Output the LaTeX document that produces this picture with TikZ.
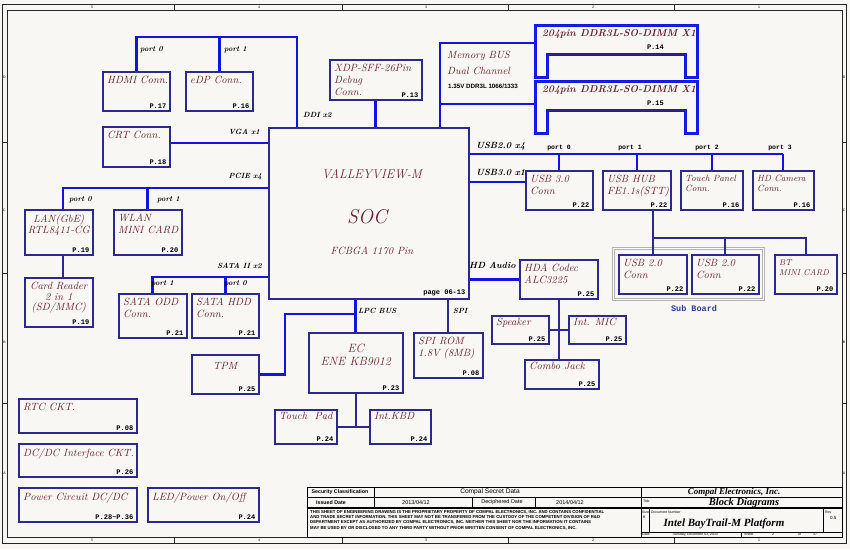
\documentclass[tikz,border=0pt]{standalone}
\usepackage{fontspec}
\newfontfamily\pgmono{Liberation Mono}
\newfontfamily\tbsans{Liberation Sans}
\newfontfamily\tbserif{Liberation Serif}
\usetikzlibrary{positioning, calc}
\definecolor{busblue}{RGB}{20,20,225}
\definecolor{boxnavy}{RGB}{45,40,140}
\definecolor{txtred}{RGB}{110,35,45}
\definecolor{paper}{RGB}{248,247,244}
\definecolor{sbblue}{RGB}{50,60,150}

\begin{document}
\begin{tikzpicture}[
    x=1pt, y=-1pt,
    blk/.style={draw=boxnavy, line width=1.5pt, anchor=north west,
                inner sep=0pt},
    txt/.style={anchor=north west, inner xsep=5pt, inner ysep=5pt,
                align=left, text=txtred,
                font=\fontsize{10.5}{11.5}\selectfont\itshape},
    ctxt/.style={txt, anchor=north, align=center},
    pg/.style={anchor=south east, inner xsep=4pt, inner ysep=3pt,
               font=\fontsize{7}{7}\selectfont\pgmono\bfseries},
    bus/.style={draw=busblue, line width=2.6pt},
    drop/.style={draw=busblue, line width=1.8pt},
    wire/.style={draw=boxnavy, line width=1.6pt},
    lbl/.style={anchor=base west, inner sep=0pt,
                font=\fontsize{7.5}{8}\selectfont\bfseries\itshape},
    biglbl/.style={lbl, font=\fontsize{9}{10}\selectfont\bfseries\itshape},
    plbl/.style={anchor=base, inner sep=0pt,
                 font=\fontsize{6.5}{7}\selectfont\pgmono\bfseries},
    soctxt/.style={anchor=base, inner sep=0pt, text=txtred},
    dimm/.style={anchor=north west, inner sep=0pt, minimum width=162pt,
                 minimum height=52pt},
    dimmln/.style={draw=busblue, line width=3pt,
                   postaction={draw=boxnavy, line width=0.8pt}},
    dtxt/.style={txt, inner xsep=7pt, inner ysep=4pt,
                 font=\fontsize{10}{11}\selectfont\bfseries\itshape},
    subb/.style={draw=gray!60, line width=0.8pt, double=white,
                 double distance=1.4pt, anchor=north west, inner sep=0pt},
    frm/.style={draw=black!85, line width=0.8pt},
    zone/.style={inner sep=0pt, font=\fontsize{3.5}{4}\selectfont\tbsans},
    tbl/.style={draw=black, line width=1pt},
    tbtxt/.style={inner sep=0pt, font=\fontsize{5.5}{6}\selectfont\tbsans},
    tbtiny/.style={anchor=west, inner sep=0pt,
                   font=\fontsize{3.5}{4}\selectfont\tbsans},
    tbbig/.style={inner sep=0pt, font=\tbserif\bfseries\itshape}
  ]
  \fill[paper] (0,0) rectangle (850,549);

  % sheet frame
  \draw[frm] (2,4) rectangle (846,543);
  \draw[frm] (7,10) rectangle (842,537);
  \foreach \x in {174,342,508,674} {
    \draw[frm] (\x,4) -- (\x,10);
    \draw[frm] (\x,537) -- (\x,543);
  }
  \foreach \y in {142,273,403} {
    \draw[frm] (2,\y) -- (7,\y);
    \draw[frm] (842,\y) -- (846,\y);
  }
  \foreach \x/\t in {92/5,259/4,426/3,593/2,759/1} {
    \node[zone] (zt\t) at (\x,7) {\t};
    \node[zone] (zb\t) at (\x,540) {\t};
  }
  \foreach \y/\t in {77/D,210/C,342/B,473/A} {
    \node[zone] (zl\t) at (4.5,\y) {\t};
    \node[zone] (zr\t) at (844,\y) {\t};
  }

  % SOC
  \node[blk, minimum width=200pt, minimum height=171pt,
        label={[pg]south east:page 06-13}] (soc) at (268,127) {};
  \node[soctxt, font=\fontsize{12.6}{13}\selectfont\itshape]
    (socname) at (372,178) {VALLEYVIEW-M};
  \node[soctxt, font=\fontsize{20}{20}\selectfont\itshape]
    (soclbl) at (367,223) {SOC};
  \node[soctxt, font=\fontsize{10.5}{11}\selectfont\itshape]
    (socpkg) at (372,254) {FCBGA 1170 Pin};

  % display
  \node[blk, minimum width=67pt, minimum height=39pt,
        label={[txt]north west:HDMI Conn.},
        label={[pg]south east:P.17}] (hdmi) at (102,71) {};
  \node[blk, minimum width=67pt, minimum height=39pt,
        label={[txt]north west:eDP Conn.},
        label={[pg]south east:P.16}] (edp) at (185,71) {};
  \node[blk, minimum width=67pt, minimum height=40pt,
        label={[txt]north west:CRT Conn.},
        label={[pg]south east:P.18}] (crt) at (102,126) {};

  % pcie / sata
  \node[blk, minimum width=68pt, minimum height=45pt,
        label={[ctxt]north:LAN(GbE)\\RTL8411-CG},
        label={[pg]south east:P.19}] (lan) at (24,209) {};
  \node[blk, minimum width=68pt, minimum height=45pt,
        label={[txt]north west:WLAN\\MINI CARD},
        label={[pg]south east:P.20}] (wlan) at (113,209) {};
  \node[blk, minimum width=68pt, minimum height=49pt,
        label={[ctxt, font=\fontsize{10.5}{10.5}\selectfont\itshape]
               north:Card Reader\\2 in 1\\(SD/MMC)},
        label={[pg]south east:P.19}] (cardrd) at (24,277) {};
  \node[blk, minimum width=68pt, minimum height=44pt,
        label={[txt]north west:SATA ODD\\Conn.},
        label={[pg]south east:P.21}] (odd) at (118,293) {};
  \node[blk, minimum width=67pt, minimum height=44pt,
        label={[txt]north west:SATA HDD\\Conn.},
        label={[pg]south east:P.21}] (hdd) at (191,293) {};

  % debug / memory
  \node[blk, minimum width=92pt, minimum height=40pt,
        label={[txt, font=\fontsize{10.5}{12}\selectfont\itshape]
               north west:XDP-SFF-26Pin\\Debug\\Conn.},
        label={[pg]south east:P.13}] (xdp) at (329,59) {};
  \node[dimm, label={[dtxt]north west:204pin DDR3L-SO-DIMM X1}]
    (dimma) at (535,25) {};
  \node[dimm, label={[dtxt]north west:204pin DDR3L-SO-DIMM X1}]
    (dimmb) at (535,81) {};
  \draw[dimmln] (dimma.north west) -- (dimma.north east)
    -- (dimma.south east) -- ++(-12,0) -- ++(0,-23) -- ++(-138,0)
    -- ++(0,23) -- (dimma.south west) -- cycle;
  \draw[dimmln] (dimmb.north west) -- (dimmb.north east)
    -- (dimmb.south east) -- ++(-12,0) -- ++(0,-23) -- ++(-138,0)
    -- ++(0,23) -- (dimmb.south west) -- cycle;
  \node[pg, anchor=base east, inner sep=0pt] (dimmapg) at (664,49) {P.14};
  \node[pg, anchor=base east, inner sep=0pt] (dimmbpg) at (664,105) {P.15};
  \node[txt, anchor=base west, inner sep=0pt] (memname) at (447,58)
    {Memory BUS};
  \node[txt, anchor=base west, inner sep=0pt] (memch) at (447,74)
    {Dual Channel};
  \node[anchor=base west, inner sep=0pt,
        font=\fontsize{6.2}{7}\selectfont\tbsans\bfseries]
    (memspd) at (448,88) {1.35V DDR3L 1066/1333};

  % usb
  \node[blk, minimum width=67pt, minimum height=39pt,
        label={[txt]north west:USB 3.0\\Conn},
        label={[pg]south east:P.22}] (usb3) at (525,170) {};
  \node[blk, minimum width=68pt, minimum height=39pt,
        label={[txt]north west:USB HUB\\FE1.1s(STT)},
        label={[pg]south east:P.22}] (hub) at (602,170) {};
  \node[blk, minimum width=62pt, minimum height=39pt,
        label={[txt, font=\fontsize{9}{10}\selectfont\itshape]
               north west:Touch Panel\\Conn.},
        label={[pg]south east:P.16}] (tpanel) at (680,170) {};
  \node[blk, minimum width=61pt, minimum height=39pt,
        label={[txt, font=\fontsize{9}{10}\selectfont\itshape]
               north west:HD Camera\\Conn.},
        label={[pg]south east:P.16}] (hdcam) at (752,170) {};
  \node[subb, minimum width=150pt, minimum height=51pt] (subbrd)
    at (613,248) {};
  \node[anchor=base, inner sep=0pt, text=sbblue,
        font=\fontsize{8.5}{9}\selectfont\pgmono\bfseries]
    (sbname) at (694,311) {Sub Board};
  \node[blk, minimum width=68pt, minimum height=39pt,
        label={[txt]north west:USB 2.0\\Conn},
        label={[pg]south east:P.22}] (usb2a) at (618,254) {};
  \node[blk, minimum width=67pt, minimum height=39pt,
        label={[txt]north west:USB 2.0\\Conn},
        label={[pg]south east:P.22}] (usb2b) at (691,254) {};
  \node[blk, minimum width=62pt, minimum height=39pt,
        label={[txt, font=\fontsize{8.5}{10}\selectfont\itshape]
               north west:BT\\MINI CARD},
        label={[pg]south east:P.20}] (bt) at (774,254) {};

  % audio / lpc
  \node[blk, minimum width=78pt, minimum height=39pt,
        label={[txt]north west:HDA Codec\\ALC3225},
        label={[pg]south east:P.25}] (hda) at (519,259) {};
  \node[blk, minimum width=57pt, minimum height=28pt,
        label={[txt, inner ysep=3pt]north west:Speaker},
        label={[pg]south east:P.25}] (spk) at (491,315) {};
  \node[blk, minimum width=57pt, minimum height=28pt,
        label={[txt, inner ysep=3pt]north west:Int. MIC},
        label={[pg]south east:P.25}] (mic) at (568,315) {};
  \node[blk, minimum width=74pt, minimum height=29pt,
        label={[txt, inner ysep=3pt]north west:Combo Jack},
        label={[pg]south east:P.25}] (combo) at (524,359) {};
  \node[blk, minimum width=69pt, minimum height=45pt,
        label={[txt]north west:SPI ROM\\1.8V (8MB)},
        label={[pg]south east:P.08}] (spirom) at (413,332) {};
  \node[blk, minimum width=94pt, minimum height=60pt,
        label={[ctxt, yshift=-7pt, font=\fontsize{12}{13}\selectfont\itshape]
               north:EC\\ENE KB9012},
        label={[pg]south east:P.23}] (ec) at (308,332) {};
  \node[blk, minimum width=67pt, minimum height=39pt,
        label={[ctxt, yshift=-3pt]north:TPM},
        label={[pg]south east:P.25}] (tpm) at (191,354) {};
  \node[blk, minimum width=62pt, minimum height=34pt,
        label={[txt, inner ysep=3pt]north west:Touch~~Pad},
        label={[pg]south east:P.24}] (tpad) at (274,409) {};
  \node[blk, minimum width=61pt, minimum height=34pt,
        label={[txt, inner ysep=3pt]north west:Int.KBD},
        label={[pg]south east:P.24}] (kbd) at (369,409) {};

  % power
  \node[blk, minimum width=118pt, minimum height=34pt,
        label={[txt]north west:RTC CKT.},
        label={[pg]south east:P.08}] (rtc) at (18,398) {};
  \node[blk, minimum width=118pt, minimum height=33pt,
        label={[txt]north west:DC/DC Interface CKT.},
        label={[pg]south east:P.26}] (dcdc) at (18,443) {};
  \node[blk, minimum width=118pt, minimum height=34pt,
        label={[txt]north west:Power Circuit DC/DC},
        label={[pg]south east:P.28\textasciitilde P.36}] (pwr) at (18,487) {};
  \node[blk, minimum width=111pt, minimum height=34pt,
        label={[txt]north west:LED/Power On/Off},
        label={[pg]south east:P.24}] (led) at (147,487) {};

  % buses
  \coordinate (ddibus) at (297,37);
  \coordinate (vgabus) at (0,143);
  \coordinate (pciebus) at (63,188);
  \coordinate (satabus) at (0,277);
  \coordinate (memabus) at (440,43);
  \coordinate (membbus) at (440,104);
  \coordinate (u2bus) at (0,154);
  \coordinate (u3bus) at (0,182);
  \coordinate (sbbus) at (0,238);
  \coordinate (lpcbend) at (285,314);

  \draw[bus] (hdmi.north) |- (ddibus) -- (ddibus |- soc.north);
  \draw[bus] (edp.north) -- (edp.north |- ddibus);
  \draw[bus] (crt.east |- vgabus) -- (soc.west |- vgabus);
  \draw[bus] (pciebus |- lan.north) -- (pciebus) -- (pciebus -| soc.west);
  \draw[bus] (wlan.north) -- (wlan.north |- pciebus);
  \draw[wire] (pciebus |- lan.south) -- (pciebus |- cardrd.north);
  \draw[bus] (odd.north) -- (odd.north |- satabus) -- (soc.west |- satabus);
  \draw[bus] (hdd.north) -- (hdd.north |- satabus);
  \draw[bus] (xdp.south) -- (xdp.south |- soc.north);
  \draw[bus] (memabus |- soc.north) -- (memabus) -- (memabus -| dimma.west);
  \draw[bus] (membbus) -- (membbus -| dimmb.west);
  \draw[bus] (soc.east |- u2bus) -- (hdcam.north |- u2bus);
  \foreach \n in {usb3, hub, tpanel, hdcam}
    \draw[drop] (\n.north) -- (\n.north |- u2bus);
  \draw[bus] (soc.east |- u3bus) -- (usb3.west |- u3bus);
  \draw[wire] (usb2a.north |- hub.south) -- (usb2a.north);
  \draw[wire] (usb2a.north |- sbbus) -- (bt.north |- sbbus) -- (bt.north);
  \draw[wire] (usb2b.north |- sbbus) -- (usb2b.north);
  \draw[bus] (hda.west) -- (hda.west -| soc.east);
  \draw[wire] (hda.south) -- (hda.south |- combo.north);
  \draw[wire] (spk.east) -- (mic.west);
  \draw[wire] (spirom.north) -- (spirom.north |- soc.south);
  \draw[bus] (ec.north) -- (ec.north |- soc.south);
  \draw[bus] (tpm.east) -| (lpcbend) -- (lpcbend -| ec.north);
  \draw[wire] (ec.south) -- (ec.south |- tpad.east);
  \draw[wire] (tpad.east) -- (kbd.west);

  % bus labels
  \node[lbl] (ddip0) at (140,51) {port 0};
  \node[lbl] (ddip1) at (224,51) {port 1};
  \node[lbl] (ddilbl) at (303,117) {DDI x2};
  \node[lbl, anchor=base east] (vgalbl) at (260,134) {VGA x1};
  \node[lbl, anchor=base east] (pcielbl) at (262,178) {PCIE x4};
  \node[lbl] (pciep0) at (69,201) {port 0};
  \node[lbl] (pciep1) at (157,201) {port 1};
  \node[lbl, anchor=base east] (satalbl) at (262,268) {SATA II x2};
  \node[lbl] (satap1) at (151,285) {port 1};
  \node[lbl] (satap0) at (224,285) {port 0};
  \node[lbl] (lpclbl) at (358,313) {LPC BUS};
  \node[lbl] (spilbl) at (453,313) {SPI};
  \node[biglbl] (hdalbl) at (469,268) {HD Audio};
  \node[biglbl] (u2lbl) at (476,148) {USB2.0 x4};
  \node[biglbl] (u3lbl) at (476,175) {USB3.0 x1};
  \node[plbl] (usbp0) at (559,149) {port 0};
  \node[plbl] (usbp1) at (630,149) {port 1};
  \node[plbl] (usbp2) at (707,149) {port 2};
  \node[plbl] (usbp3) at (780,149) {port 3};

  % title block
  \draw[tbl] (307,487) rectangle (842,537);
  \draw[tbl] (307,497) -- (842,497);
  \draw[tbl, line width=1.4pt] (307,508) -- (842,508);
  \draw[tbl] (374,487) -- (374,508);
  \draw[tbl] (472,497) -- (472,508);
  \draw[tbl] (535,497) -- (535,508);
  \draw[tbl] (641,487) -- (641,537);
  \draw[tbl] (641,532) -- (842,532);
  \draw[tbl] (649,508) -- (649,532);
  \draw[tbl] (823,508) -- (823,532);
  \draw[tbl, line width=0.6pt] (741,532) -- (741,537);
  \node[tbtxt, font=\fontsize{5.3}{6}\selectfont\tbsans\bfseries]
    (secl) at (340,492) {Security Classification};
  \node[tbtxt, font=\fontsize{6.6}{7}\selectfont\tbsans]
    (secv) at (490,492) {Compal Secret Data};
  \node[tbtxt, font=\fontsize{5.3}{6}\selectfont\tbsans\bfseries]
    (issl) at (331,502.5) {Issued Date};
  \node[tbtxt] (issv) at (416,502.5) {2013/04/12};
  \node[tbtxt] (decl) at (502,502.5) {Deciphered Date};
  \node[tbtxt] (decv) at (570,502.5) {2014/04/12};
  \node[anchor=north west, inner sep=0pt, align=left,
        font=\fontsize{4.3}{5.3}\selectfont\tbsans\bfseries] (discl)
    at (310,510) {THIS SHEET OF ENGINEERING DRAWING IS THE PROPRIETARY
    PROPERTY OF COMPAL ELECTRONICS, INC. AND CONTAINS CONFIDENTIAL\\
    AND TRADE SECRET INFORMATION. THIS SHEET MAY NOT BE TRANSFERED FROM
    THE CUSTODY OF THE COMPETENT DIVISION OF R\&D\\
    DEPARTMENT EXCEPT AS AUTHORIZED BY COMPAL ELECTRONICS, INC. NEITHER
    THIS SHEET NOR THE INFORMATION IT CONTAINS\\
    MAY BE USED BY OR DISCLOSED TO ANY THIRD PARTY WITHOUT PRIOR WRITTEN
    CONSENT OF COMPAL ELECTRONICS, INC.};
  \node[tbbig, font=\fontsize{9}{10}\selectfont\tbserif\bfseries\itshape]
    (company) at (734,492) {Compal Electronics, Inc.};
  \node[tbtiny] (ttll) at (643,501) {Title};
  \node[tbbig, font=\fontsize{10.5}{11}\selectfont\tbserif\bfseries\itshape]
    (ttlv) at (744,503) {Block Diagrams};
  \node[tbtiny] (sizel) at (642,512) {Size};
  \node[tbtiny] (sizev) at (643,517) {B};
  \node[tbtiny] (docl) at (651,512) {Document Number};
  \node[tbbig, font=\fontsize{11}{12}\selectfont\tbserif\bfseries\itshape]
    (docv) at (724,524) {Intel BayTrail-M Platform};
  \node[tbtiny] (revl) at (825,512) {Rev};
  \node[tbtiny, font=\fontsize{4.5}{5}\selectfont\tbsans] (revv)
    at (830,518) {0.5};
  \node[tbtiny] (datel) at (642,534.5) {Date:};
  \node[tbtiny] (datev) at (672,534.5) {Tuesday, December 03, 2013};
  \node[tbtiny] (shtl) at (744,534.5) {Sheet};
  \node[tbtiny] (shtv) at (772,534.5) {2};
  \node[tbtiny] (ofl) at (798,534.5) {of};
  \node[tbtiny] (totv) at (813,534.5) {37};
\end{tikzpicture}
\end{document}
